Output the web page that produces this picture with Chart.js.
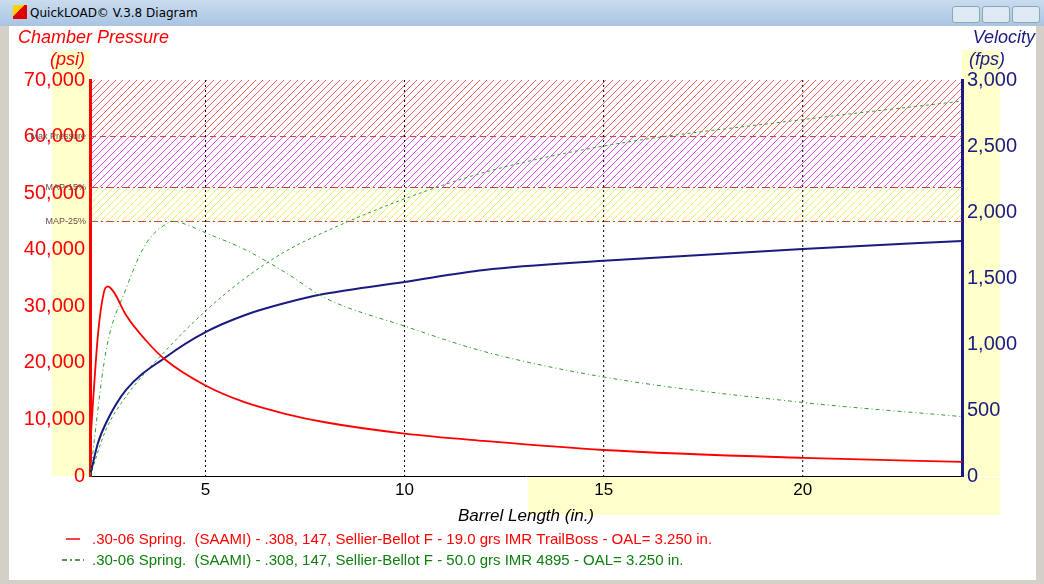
<!DOCTYPE html>
<html><head><meta charset="utf-8">
<script src="https://cdn.jsdelivr.net/npm/chart.js@4/dist/chart.umd.min.js"></script>
<style>
body{margin:0;width:1044px;height:584px;overflow:hidden;background:#d4d0c8;font-family:"Liberation Sans",Arial,sans-serif}
#tb{position:absolute;left:0;top:0;width:1044px;height:26px;background:linear-gradient(#c9dcf0,#a9c4e2);}
#tt{position:absolute;left:30px;top:6px;font:12px "DejaVu Sans",sans-serif;color:#000}
#ic{position:absolute;left:13px;top:5px;width:14px;height:14px;background:linear-gradient(135deg,#ffd000 40%,#e00000 40%)}
#wh{position:absolute;left:9px;top:26px;width:1027px;height:554px;background:#fff}
.btn{position:absolute;top:6px;width:26px;height:15px;border:1px solid #8aa;border-radius:3px;background:#dfe9f5}
canvas{position:absolute;left:0;top:0}
</style></head><body>
<div id="tb"><div id="ic"></div><div id="tt">QuickLOAD© V.3.8 Diagram</div>
<div class="btn" style="left:952px"></div><div class="btn" style="left:982px"></div><div class="btn" style="left:1012px"></div></div>
<div id="wh"></div>
<canvas id="c" width="1044" height="584"></canvas>
<script>
const pressRedX=[2.1,2.3,2.45,2.55,2.7,3,3.5,4,5,6,7,8,10,12,15,20,24];
const pressRedY=[5000,25000,32500,33500,32500,28500,24000,20500,16000,13000,11000,9500,7500,6200,4600,3200,2500];
const pressGrnX=[2.1,2.5,3,3.5,4,4.2,4.5,5,6,7,8,10,12,15,20,24];
const pressGrnY=[0,22000,33000,41000,44500,45000,44500,43000,40000,36000,31500,26500,22000,17500,13000,10500];
const velNavyX=[2.1,2.3,2.5,3,4,5,6,7,8,10,12,15,20,24];
const velNavyY=[0,250,400,650,900,1090,1220,1310,1380,1470,1560,1630,1720,1780];
const velGrnX=[2.1,2.5,3,4,5,6,7,8,10,12,15,20,24];
const velGrnY=[0,350,600,950,1250,1500,1700,1850,2100,2300,2500,2700,2840];
const xTicks=[5,10,15,20];
const bands=[{lo:60000,hi:70000,col:'#ff6060',line:[6,4],label:'Max Pressure'},
             {lo:51000,hi:60000,col:'#e050f0',line:[8,3,2,3],label:'MAP-15%'},
             {lo:45000,hi:51000,col:'#f0f060',line:[8,3,2,3],label:'MAP-25%'}];
const pts=(xs,ys)=>xs.map((x,i)=>({x,y:ys[i]}));
function hatch(col){const p=document.createElement('canvas');p.width=p.height=7;const g=p.getContext('2d');
 g.strokeStyle=col;g.lineWidth=1;g.beginPath();g.moveTo(0,7);g.lineTo(7,0);g.moveTo(-1,1);g.lineTo(1,-1);g.moveTo(6,8);g.lineTo(8,6);g.stroke();return p;}
const deco={id:'deco',
 beforeDraw(c){const g=c.ctx;g.save();g.fillStyle='#ffffcc';g.fillRect(52,50,38,426);g.fillRect(962,50,38,426);g.fillRect(528,477,472,38);g.restore();},
 beforeDatasetsDraw(c){const g=c.ctx,a=c.chartArea,y=c.scales.y,x=c.scales.x;g.save();
  bands.forEach(b=>{const t=y.getPixelForValue(b.hi),bt=y.getPixelForValue(b.lo);
   g.fillStyle=g.createPattern(hatch(b.col),'repeat');g.fillRect(a.left+2,t,a.right-a.left-3,bt-t);});
  bands.forEach(b=>{const p=y.getPixelForValue(b.lo);g.strokeStyle='#c04040';g.setLineDash(b.line);g.lineWidth=1;
   g.beginPath();g.moveTo(a.left,p);g.lineTo(a.right,p);g.stroke();
   g.setLineDash([]);g.fillStyle='#704848';g.font='9px "Liberation Sans"';g.textAlign='right';g.textBaseline='middle';g.fillText(b.label,86,p);});
  g.strokeStyle='#000';g.setLineDash([2,3]);xTicks.forEach(v=>{const p=x.getPixelForValue(v);g.beginPath();g.moveTo(p,a.top);g.lineTo(p,a.bottom);g.stroke();});
  g.restore();},
 afterDraw(c){const g=c.ctx;g.save();g.font='italic 18px "Liberation Sans"';
  g.fillStyle='#ff0000';g.textAlign='left';g.fillText('Chamber Pressure',18,43);g.fillText('(psi)',50,65);
  g.fillStyle='#1a1a80';g.textAlign='right';g.fillText('Velocity',1035,43);g.fillText('(fps)',1005,65);
  g.fillStyle='#000';g.textAlign='center';g.font='italic 17px "Liberation Sans"';g.fillText('Barrel Length (in.)',526,521);
  g.font='15px "Liberation Sans"';g.textAlign='left';
  g.strokeStyle='#ff0000';g.lineWidth=1.5;g.beginPath();g.moveTo(66,539);g.lineTo(80,539);g.stroke();
  g.fillStyle='#ff0000';g.fillText('.30-06 Spring.  (SAAMI) - .308, 147, Sellier-Bellot F - 19.0 grs IMR TrailBoss - OAL= 3.250 in.',92,544);
  g.strokeStyle='#108010';g.setLineDash([5,3,2,3]);g.beginPath();g.moveTo(62,560);g.lineTo(84,560);g.stroke();
  g.fillStyle='#108010';g.fillText('.30-06 Spring.  (SAAMI) - .308, 147, Sellier-Bellot F - 50.0 grs IMR 4895 - OAL= 3.250 in.',92,565);
  g.restore();}};
new Chart(document.getElementById('c'),{type:'line',
 data:{datasets:[
  {data:pts(pressRedX,pressRedY),borderColor:'#ff0000',borderWidth:1.8,yAxisID:'y'},
  {data:pts(pressGrnX,pressGrnY),borderColor:'#30a030',borderWidth:1,borderDash:[4,3,1,3],yAxisID:'y'},
  {data:pts(velNavyX,velNavyY),borderColor:'#1a1a80',borderWidth:2,yAxisID:'y1'},
  {data:pts(velGrnX,velGrnY),borderColor:'#30a030',borderWidth:1,borderDash:[3,3],yAxisID:'y1'}]},
 options:{responsive:false,animation:false,events:[],
  elements:{point:{radius:0},line:{tension:0.4,cubicInterpolationMode:'monotone'}},
  layout:{padding:{top:80,bottom:68,left:0,right:0}},
  plugins:{legend:{display:false},tooltip:{enabled:false}},
  scales:{
   x:{type:'linear',min:2.1,max:24,afterFit:s=>{s.height=40},
      afterBuildTicks:s=>{s.ticks=xTicks.map(v=>({value:v}))},
      ticks:{color:'#000',font:{size:17,family:'Liberation Sans'},padding:4},
      grid:{display:false,drawTicks:false},border:{color:'#000',width:1}},
   y:{position:'left',min:0,max:70000,afterFit:s=>{s.width=90},
      ticks:{stepSize:10000,color:'#ff0000',font:{size:20,family:'Liberation Sans'},padding:2},
      grid:{display:false,drawTicks:true,tickLength:3,tickColor:'#ff0000'},border:{color:'#ff0000',width:3}},
   y1:{position:'right',min:0,max:3000,afterFit:s=>{s.width=82},
      ticks:{stepSize:500,color:'#1a1a80',font:{size:20,family:'Liberation Sans'},padding:2},
      grid:{display:false,drawTicks:true,tickLength:3,tickColor:'#1a1a80'},border:{color:'#1a1a80',width:3}}}},
 plugins:[deco]});
</script></body></html>
